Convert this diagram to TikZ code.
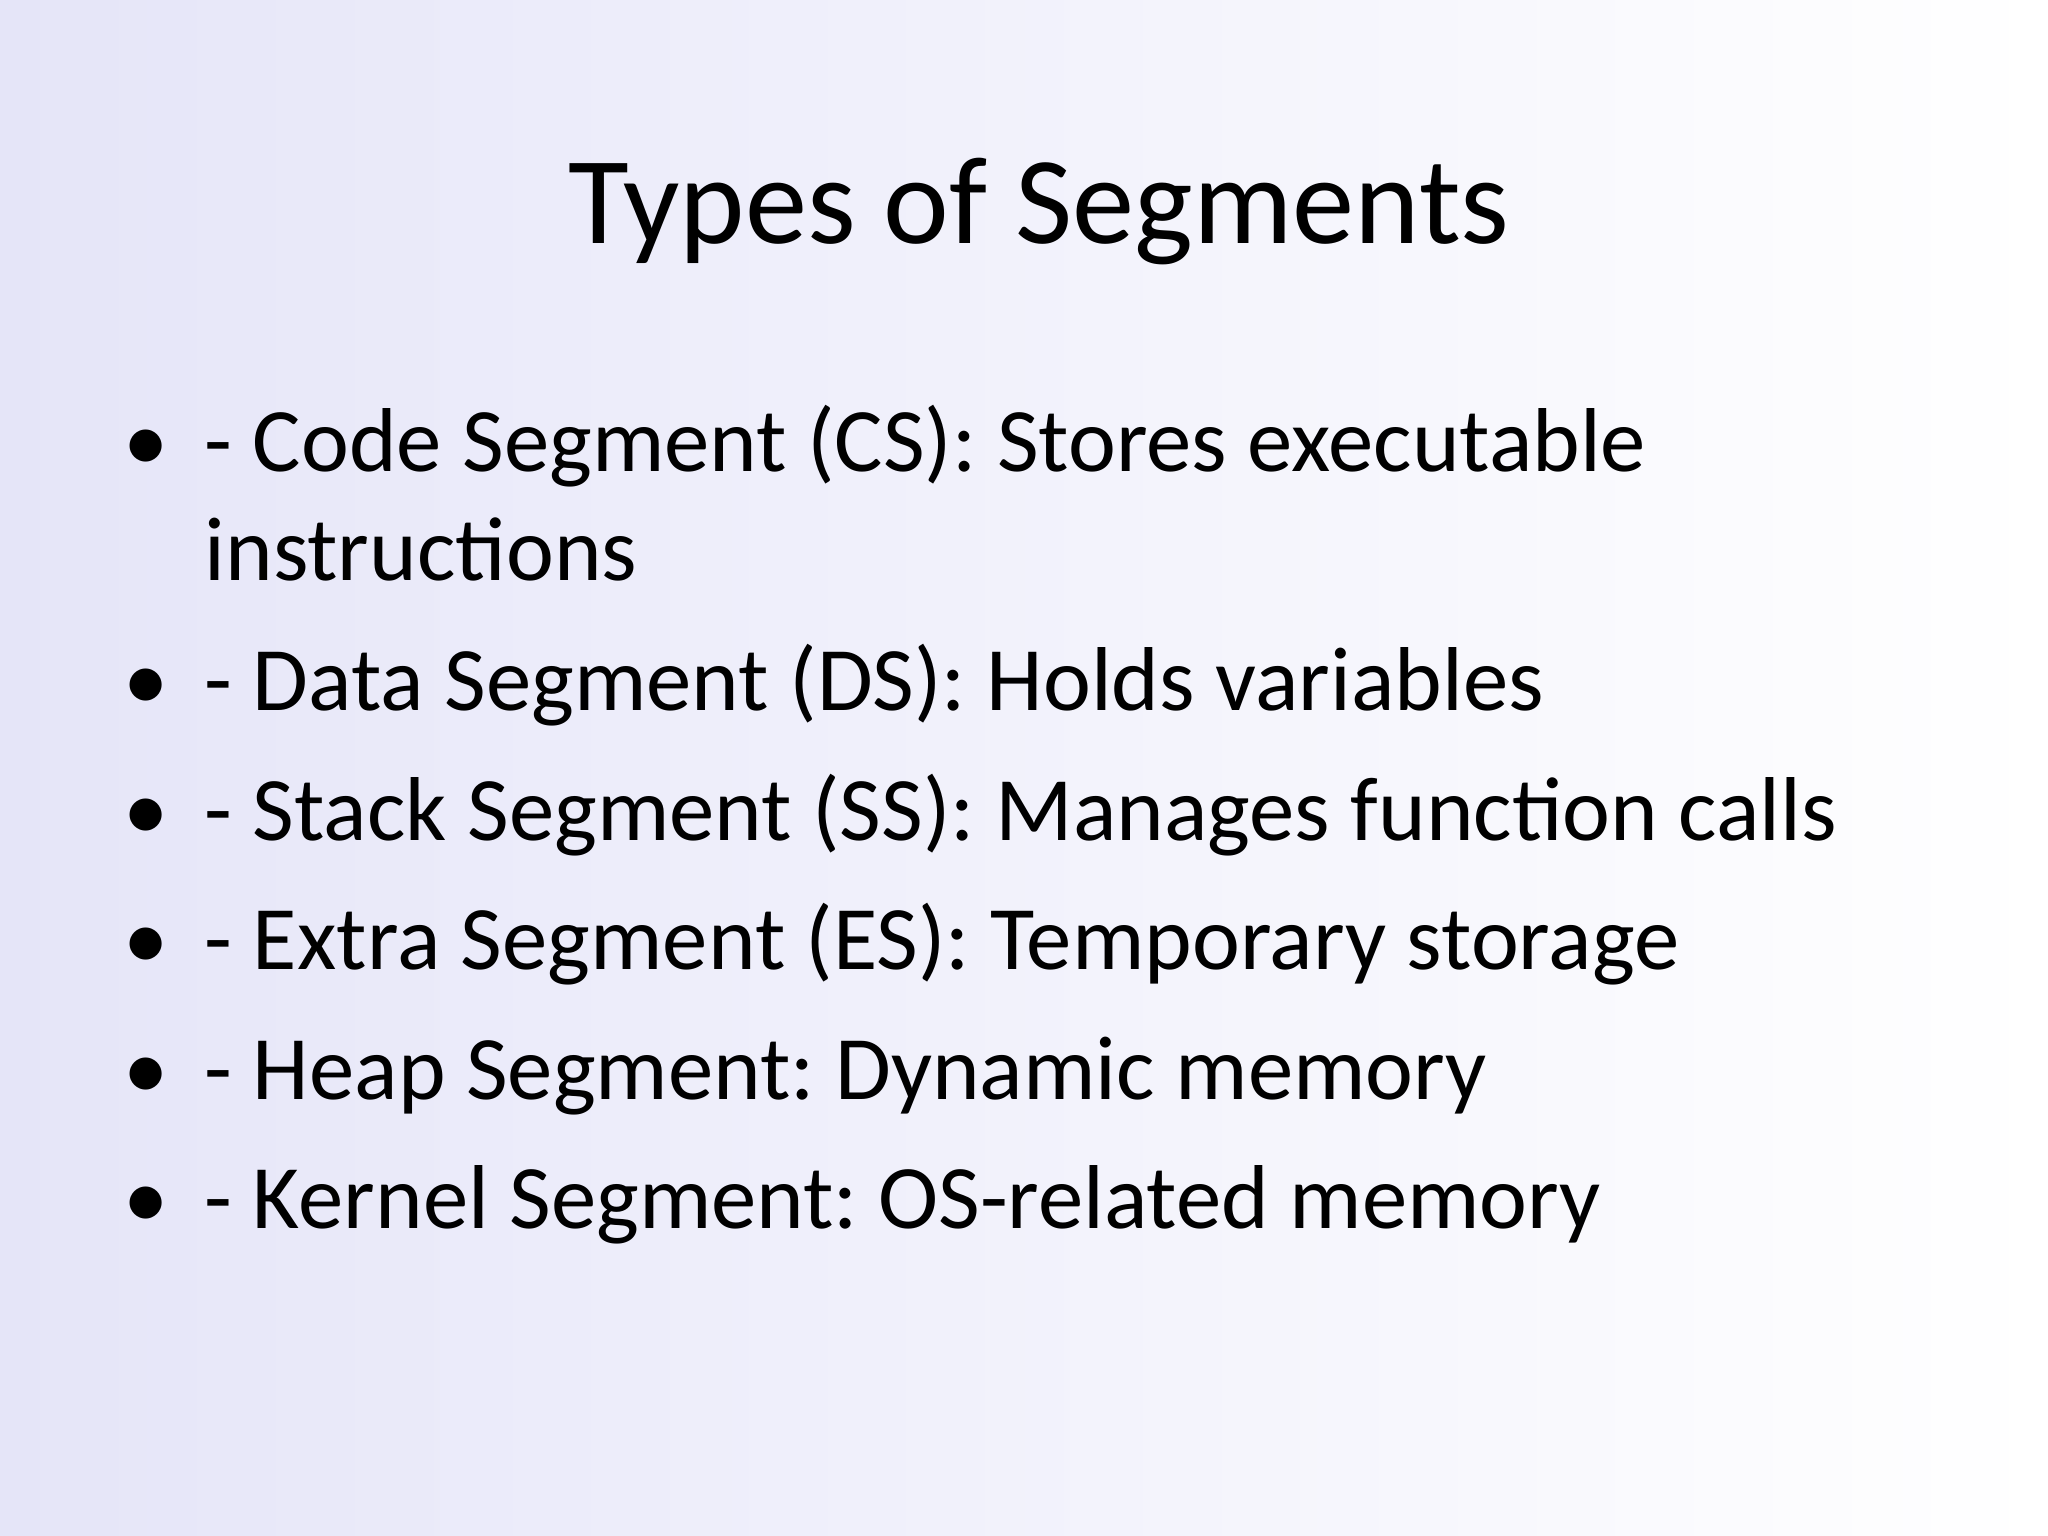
\documentclass[tikz,border=0pt]{standalone}
\usepackage{fontspec}
\setmainfont{Carlito}
\frenchspacing
\definecolor{bgl}{RGB}{229,229,248}
\definecolor{bgr}{RGB}{255,255,255}
\begin{document}
\begin{tikzpicture}[x=0.01cm,y=-0.01cm,
  item/.style={anchor=base west,inner sep=0,font=\fontsize{25.8pt}{31pt}\selectfont},
  dot/.style={anchor=base,inner sep=0,font=\fontsize{25.8pt}{31pt}\selectfont}]
\shade[left color=bgl,right color=bgr] (0,0) rectangle (2048,1536);
\useasboundingbox (0,0) rectangle (2048,1536);
\node[anchor=base,inner sep=0,font=\fontsize{35.4pt}{43pt}\selectfont\frenchspacing] (title) at (1039,243) {Types of Segments};
\foreach \y/\n in {471/a,710/b,840/c,969/d,1099/e,1228/f}{
  \node[dot] (b\n) at (146,\y) {•};}
\node[item] (t1) at (204,471) {- Code Segment (CS): Stores executable};
\node[item] (t1b) at (204,580) {instructions};
\node[item] (t2) at (204,710) {- Data Segment (DS): Holds variables};
\node[item] (t3) at (204,840) {- Stack Segment (SS): Manages function calls};
\node[item] (t4) at (204,969) {- Extra Segment (ES): Temporary storage};
\node[item] (t5) at (204,1099) {- Heap Segment: Dynamic memory};
\node[item] (t6) at (204,1228) {- Kernel Segment: OS-related memory};
\end{tikzpicture}
\end{document}
